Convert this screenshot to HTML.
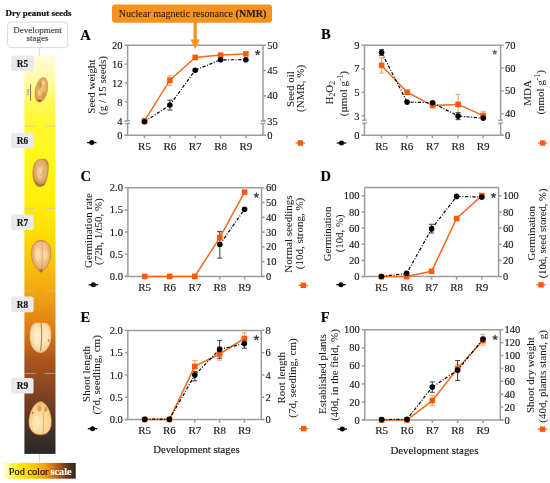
<!DOCTYPE html>
<html><head><meta charset="utf-8"><title>Peanut seed development</title>
<style>
html,body{margin:0;padding:0;background:#fff;}
body{width:550px;height:483px;overflow:hidden;font-family:"Liberation Serif",serif;}
svg{display:block;filter:blur(0.25px);}
text{font-family:"Liberation Serif",serif;stroke:#111;stroke-width:0.15px;}
.w{stroke:#fff;}
</style></head><body>
<svg width="550" height="483" viewBox="0 0 550 483" font-family="Liberation Serif, serif">
<rect width="550" height="483" fill="#fff"/>
<defs>
<linearGradient id="strip" x1="0" y1="0" x2="0" y2="1">
<stop offset="0.0000" stop-color="#fffcdc"/>
<stop offset="0.0613" stop-color="#fffba4"/>
<stop offset="0.1115" stop-color="#fff960"/>
<stop offset="0.1617" stop-color="#fff830"/>
<stop offset="0.2470" stop-color="#fff81a"/>
<stop offset="0.3525" stop-color="#fff00c"/>
<stop offset="0.4379" stop-color="#ffe000"/>
<stop offset="0.5006" stop-color="#fcca08"/>
<stop offset="0.5684" stop-color="#f5b010"/>
<stop offset="0.6136" stop-color="#ee9e14"/>
<stop offset="0.6889" stop-color="#dc7a14"/>
<stop offset="0.7642" stop-color="#ac5420"/>
<stop offset="0.8622" stop-color="#7a4020"/>
<stop offset="0.9149" stop-color="#5a3428"/>
<stop offset="0.9651" stop-color="#362d27"/>
<stop offset="1.0000" stop-color="#2c2826"/>
</linearGradient>
<linearGradient id="pod" x1="0" y1="0" x2="1" y2="0">
<stop offset="0" stop-color="#fffff4"/>
<stop offset="0.12" stop-color="#fffb60"/>
<stop offset="0.25" stop-color="#ffea00"/>
<stop offset="0.45" stop-color="#fbc400"/>
<stop offset="0.6" stop-color="#ee9a14"/>
<stop offset="0.75" stop-color="#b85e18"/>
<stop offset="0.88" stop-color="#6e3a1c"/>
<stop offset="1" stop-color="#2a2220"/>
</linearGradient>
<radialGradient id="s5" cx="0.5" cy="0.45" r="0.6"><stop offset="0" stop-color="#f0c880"/><stop offset="0.65" stop-color="#e0aa5c"/><stop offset="1" stop-color="#c4803a"/></radialGradient>
<radialGradient id="s6" cx="0.5" cy="0.42" r="0.6"><stop offset="0" stop-color="#f0cc8c"/><stop offset="0.65" stop-color="#dcaa66"/><stop offset="1" stop-color="#b47a3e"/></radialGradient>
<radialGradient id="s7" cx="0.5" cy="0.42" r="0.6"><stop offset="0" stop-color="#fadcae"/><stop offset="0.55" stop-color="#f0c088"/><stop offset="0.85" stop-color="#e0a068"/><stop offset="1" stop-color="#c87848"/></radialGradient>
<radialGradient id="s8" cx="0.5" cy="0.45" r="0.6"><stop offset="0" stop-color="#fcecc4"/><stop offset="0.7" stop-color="#f6dca6"/><stop offset="1" stop-color="#e4b472"/></radialGradient>
<radialGradient id="s9" cx="0.5" cy="0.6" r="0.62"><stop offset="0" stop-color="#fce6b0"/><stop offset="0.7" stop-color="#f7d48e"/><stop offset="1" stop-color="#e4a858"/></radialGradient>
<filter id="sb" x="-10%" y="-10%" width="120%" height="120%"><feGaussianBlur stdDeviation="0.35"/></filter>
</defs>
<text x="5.6" y="16" font-size="9" font-weight="bold" fill="#000">Dry peanut seeds</text>
<rect x="7.6" y="22" width="60" height="25.6" rx="3.5" fill="#fff" stroke="#d6d6d6" stroke-width="0.9"/>
<text x="37.5" y="32.7" font-size="9" fill="#444" style="stroke:#555;stroke-width:0.2px" text-anchor="middle">Development</text>
<text x="37.5" y="40.9" font-size="9" fill="#444" style="stroke:#555;stroke-width:0.2px" text-anchor="middle">stages</text>
<line x1="39.2" y1="47.6" x2="39.2" y2="56" stroke="#cfcfcf" stroke-width="0.9"/>
<rect x="24.4" y="55.6" width="31.1" height="398.3" fill="url(#strip)"/>
<line x1="24.4" y1="126.2" x2="35.6" y2="126.2" stroke="#c4c4c4" stroke-opacity="0.6" stroke-width="1"/><line x1="44.7" y1="126.2" x2="55.5" y2="126.2" stroke="#c4c4c4" stroke-opacity="0.6" stroke-width="1"/>
<line x1="24.4" y1="208.5" x2="35.6" y2="208.5" stroke="#c4c4c4" stroke-opacity="0.6" stroke-width="1"/><line x1="44.7" y1="208.5" x2="55.5" y2="208.5" stroke="#c4c4c4" stroke-opacity="0.6" stroke-width="1"/>
<line x1="24.4" y1="290.9" x2="35.6" y2="290.9" stroke="#c4c4c4" stroke-opacity="0.6" stroke-width="1"/><line x1="44.7" y1="290.9" x2="55.5" y2="290.9" stroke="#c4c4c4" stroke-opacity="0.6" stroke-width="1"/>
<line x1="24.4" y1="373.4" x2="35.6" y2="373.4" stroke="#c4c4c4" stroke-opacity="0.6" stroke-width="1"/><line x1="44.7" y1="373.4" x2="55.5" y2="373.4" stroke="#c4c4c4" stroke-opacity="0.6" stroke-width="1"/>
<rect x="11.2" y="55.6" width="22.4" height="15.6" rx="2.2" fill="#e9e9eb"/>
<text x="22.4" y="66.7" font-size="9.4" font-weight="bold" fill="#111" text-anchor="middle">R5</text>
<rect x="11.2" y="132.7" width="22.4" height="15.6" rx="2.2" fill="#e9e9eb"/>
<text x="22.4" y="143.79999999999998" font-size="9.4" font-weight="bold" fill="#111" text-anchor="middle">R6</text>
<rect x="11.2" y="214.4" width="22.4" height="15.6" rx="2.2" fill="#e9e9eb"/>
<text x="22.4" y="225.5" font-size="9.4" font-weight="bold" fill="#111" text-anchor="middle">R7</text>
<rect x="11.2" y="296.6" width="22.4" height="15.6" rx="2.2" fill="#e9e9eb"/>
<text x="22.4" y="307.70000000000005" font-size="9.4" font-weight="bold" fill="#111" text-anchor="middle">R8</text>
<rect x="11.2" y="378.0" width="22.4" height="15.6" rx="2.2" fill="#e9e9eb"/>
<text x="22.4" y="389.1" font-size="9.4" font-weight="bold" fill="#111" text-anchor="middle">R9</text>
<g filter="url(#sb)">
<ellipse cx="41.4" cy="89.8" rx="6.4" ry="12.8" transform="rotate(12 41.4 89.8)" fill="url(#s5)"/>
<ellipse cx="40.2" cy="85" rx="1.8" ry="3.6" transform="rotate(12 40.2 85)" fill="#c87430" opacity="0.55"/>
<ellipse cx="43.2" cy="95" rx="1.3" ry="3" transform="rotate(12 43.2 95)" fill="#c07030" opacity="0.45"/>
<ellipse cx="43.3" cy="83" rx="1.6" ry="2.6" fill="#f6dca8" opacity="0.75"/>
<ellipse cx="39.2" cy="93.5" rx="1.4" ry="2.4" fill="#f2d49a" opacity="0.7"/>
<ellipse cx="39.6" cy="100.6" rx="1.8" ry="1.1" fill="#7a3a18" opacity="0.7"/>
<path d="M44 159 C47 159 48.6 162 48.4 167 C48.2 174 47 181 44.5 184.5 C42.5 186.7 39.5 187.2 37.2 186 C34.2 184 32.6 178 32.8 172 C33 166 35 161.2 38 160 C40 159.3 42 159 44 159 Z" fill="url(#s6)" stroke="#9a5a28" stroke-opacity="0.45" stroke-width="0.8"/>
<ellipse cx="40" cy="173" rx="3" ry="6" fill="#f4d8a4" opacity="0.55"/>
<path d="M36 182 C38 185 42 186 44.5 184" stroke="#9a5a2a" stroke-width="1.2" fill="none" opacity="0.6"/>
<path d="M41 176 L44 170" stroke="#b07038" stroke-width="0.8" opacity="0.5"/>
<path d="M41 240.6 C47.5 240.6 51 245.5 50.9 253 C50.8 261 47 268.5 41.2 272.4 C35 268.5 31.3 261 31.4 253 C31.5 245.5 34.8 240.6 41 240.6 Z" fill="url(#s7)" stroke="#b0603a" stroke-opacity="0.5" stroke-width="0.8"/>
<path d="M41.6 243 C42.6 251 42.6 261 41.4 270" stroke="#d08858" stroke-width="1.1" fill="none" opacity="0.55"/>
<ellipse cx="37.5" cy="254" rx="2.6" ry="7" fill="#fbe2b8" opacity="0.6"/>
<ellipse cx="45.5" cy="255" rx="2.2" ry="6" fill="#fbe0b4" opacity="0.5"/>
<path d="M39.2 269.5 L41.2 272.4 L43.2 269.5 Z" fill="#a04828" opacity="0.7"/>
<path d="M36 241.8 C39 240.4 43 240.4 46 241.8" stroke="#c06a3a" stroke-width="1" fill="none" opacity="0.6"/>
<path d="M40.8 323.5 C43 321.8 48 322 50.2 327 C51.8 331 51.6 340 49.5 345 C47.5 350 44 352.8 40.5 352.8 C37 352.8 33 350 31.2 345 C29.3 340 29.4 331 31 327 C33 322 38 321.8 40.8 323.5 Z" fill="url(#s8)" stroke="#c89050" stroke-opacity="0.5" stroke-width="0.7"/>
<ellipse cx="36.5" cy="336" rx="3" ry="9" fill="#fff4d8" opacity="0.55"/>
<ellipse cx="46" cy="335" rx="2.4" ry="8" fill="#fff2d0" opacity="0.45"/>
<path d="M41.2 324 C42 332 41.8 342 40.6 351" stroke="#a8603a" stroke-width="1.1" fill="none" opacity="0.75"/>
<ellipse cx="48.5" cy="340.5" rx="0.8" ry="1.2" fill="#a05a30" opacity="0.7"/>
<path d="M40.5 401.3 C46.5 402 51.5 412 51.5 422 C51.5 431 46.5 434.9 40.5 434.9 C34.5 434.9 28.8 431 28.8 422 C28.8 412 34.5 402 40.5 401.3 Z" fill="url(#s9)" stroke="#c07838" stroke-opacity="0.45" stroke-width="0.7"/>
<ellipse cx="39.5" cy="408.5" rx="2.2" ry="3" fill="#d07a30" opacity="0.6"/>
<ellipse cx="45.5" cy="409.5" rx="1.5" ry="2.6" fill="#c06a28" opacity="0.6"/>
<path d="M43 412 C43.8 420 43.8 427 43 434" stroke="#d89040" stroke-width="1" fill="none" opacity="0.6"/>
<path d="M33 433 C37 435.5 44 435.5 48 433" stroke="#c05a28" stroke-width="1.1" fill="none" opacity="0.6"/>
<ellipse cx="32.6" cy="413" rx="0.9" ry="0.9" fill="#8a4a20" opacity="0.7"/>
<ellipse cx="36" cy="423" rx="3.5" ry="8" fill="#fff0cc" opacity="0.45"/>
</g>
<line x1="30.6" y1="84.3" x2="30.6" y2="100.7" stroke="#555" stroke-width="0.8"/>
<text transform="translate(28.6,92.5) rotate(-90)" font-size="3.2" fill="#555" style="stroke:none" text-anchor="middle">1 cm</text>
<line x1="39.4" y1="454" x2="39.4" y2="462.6" stroke="#cfcfcf" stroke-width="0.9"/>
<rect x="2.5" y="462.9" width="73.2" height="15.8" fill="url(#pod)"/>
<text x="8.8" y="474.8" font-size="10.3" fill="#111">Pod color</text>
<text x="50.6" y="474.8" font-size="10.2" font-weight="bold" fill="#fff" class="w">scale</text>
<g stroke="#9c9c9c" stroke-width="1.5" fill="none"><line x1="127.6" y1="45.2" x2="263" y2="45.2"/><line x1="124.6" y1="135.3" x2="266" y2="135.3"/><line x1="127.6" y1="45.2" x2="127.6" y2="120.6"/><line x1="127.6" y1="123.4" x2="127.6" y2="135.3"/><line x1="125.3" y1="121" x2="129.9" y2="120.4"/><line x1="125.3" y1="123.8" x2="129.9" y2="123.2"/><line x1="263" y1="45.2" x2="263" y2="120.6"/><line x1="263" y1="123.4" x2="263" y2="135.3"/><line x1="260.7" y1="121" x2="265.3" y2="120.4"/><line x1="260.7" y1="123.8" x2="265.3" y2="123.2"/><line x1="124.6" y1="45.2" x2="127.6" y2="45.2"/><line x1="124.6" y1="64.1" x2="127.6" y2="64.1"/><line x1="124.6" y1="83" x2="127.6" y2="83"/><line x1="124.6" y1="101.9" x2="127.6" y2="101.9"/><line x1="124.6" y1="120.9" x2="127.6" y2="120.9"/><line x1="124.6" y1="135.3" x2="127.6" y2="135.3"/><line x1="263" y1="45.2" x2="266" y2="45.2"/><line x1="263" y1="70.5" x2="266" y2="70.5"/><line x1="263" y1="95.8" x2="266" y2="95.8"/><line x1="263" y1="121" x2="266" y2="121"/><line x1="263" y1="135.3" x2="266" y2="135.3"/><line x1="144.5" y1="135.3" x2="144.5" y2="138.3"/><line x1="169.9" y1="135.3" x2="169.9" y2="138.3"/><line x1="195.2" y1="135.3" x2="195.2" y2="138.3"/><line x1="220.6" y1="135.3" x2="220.6" y2="138.3"/><line x1="245.9" y1="135.3" x2="245.9" y2="138.3"/></g>
<g font-size="10.5" fill="#1a1a1a"><text x="122.6" y="48.8" text-anchor="end">20</text><text x="122.6" y="67.7" text-anchor="end">16</text><text x="122.6" y="86.6" text-anchor="end">12</text><text x="122.6" y="105.5" text-anchor="end">8</text><text x="122.6" y="124.5" text-anchor="end">4</text><text x="122.6" y="138.9" text-anchor="end">0</text><text x="267.3" y="48.8">50</text><text x="267.3" y="74.1">45</text><text x="267.3" y="99.4">40</text><text x="267.3" y="124.6">35</text><text x="267.3" y="138.9">0</text></g>
<g font-size="11" fill="#1a1a1a"><text x="144.5" y="149.7" text-anchor="middle">R5</text><text x="169.9" y="149.7" text-anchor="middle">R6</text><text x="195.2" y="149.7" text-anchor="middle">R7</text><text x="220.6" y="149.7" text-anchor="middle">R8</text><text x="245.9" y="149.7" text-anchor="middle">R9</text></g>
<text x="80.2" y="39.6" font-size="14.5" font-weight="bold" fill="#000">A</text>
<text transform="translate(94.8,86.6) rotate(-90)" text-anchor="middle" font-size="11" fill="#1a1a1a" style="stroke-width:0.04px">Seed weight</text>
<text transform="translate(105.6,85.5) rotate(-90)" text-anchor="middle" font-size="11" fill="#1a1a1a" style="stroke-width:0.04px">(g / 15 seeds)</text>
<text transform="translate(294,89) rotate(-90)" text-anchor="middle" font-size="11" fill="#1a1a1a" style="stroke-width:0.04px">Seed oil</text>
<text transform="translate(304.3,88.4) rotate(-90)" text-anchor="middle" font-size="11" fill="#1a1a1a" style="stroke-width:0.04px">(NMR, %)</text>
<g stroke="#f3a66a" stroke-width="1.1"><line x1="144.5" y1="118.2" x2="144.5" y2="123.6"/><line x1="142" y1="118.2" x2="147" y2="118.2"/><line x1="142" y1="123.6" x2="147" y2="123.6"/><line x1="169.9" y1="75.7" x2="169.9" y2="85.3"/><line x1="167.4" y1="75.7" x2="172.4" y2="75.7"/><line x1="167.4" y1="85.3" x2="172.4" y2="85.3"/></g>
<g stroke="#4a4a4a" stroke-width="1.1"><line x1="169.9" y1="100.2" x2="169.9" y2="110.1"/><line x1="167.4" y1="100.2" x2="172.4" y2="100.2"/><line x1="167.4" y1="110.1" x2="172.4" y2="110.1"/></g>
<polyline points="144.5,120.9 169.9,80.2 195.2,57.5 220.6,55.1 245.9,53.9" fill="none" stroke="#f26a1c" stroke-width="1.5"/>
<g fill="#ff5a00"><rect x="141.7" y="118.1" width="5.6" height="5.6"/><rect x="167.1" y="77.4" width="5.6" height="5.6"/><rect x="192.4" y="54.7" width="5.6" height="5.6"/><rect x="217.8" y="52.3" width="5.6" height="5.6"/><rect x="243.1" y="51.1" width="5.6" height="5.6"/></g>
<polyline points="144.5,121.7 169.9,105 195.2,70.2 220.6,59.8 245.9,59.7" fill="none" stroke="#000" stroke-width="1.2" stroke-dasharray="3.2 1.6 1 1.6"/>
<g fill="#000"><circle cx="144.5" cy="121.7" r="2.8"/><circle cx="169.9" cy="105" r="2.8"/><circle cx="195.2" cy="70.2" r="2.8"/><circle cx="220.6" cy="59.8" r="2.8"/><circle cx="245.9" cy="59.7" r="2.8"/></g>
<path d="M257.6 52.7L257.6 50.5M257.6 52.7L259.69 52.02M257.6 52.7L258.89 54.48M257.6 52.7L256.31 54.48M257.6 52.7L255.51 52.02" stroke="#444" stroke-width="1.35" stroke-linecap="round" fill="none"/>
<line x1="87.1" y1="142.6" x2="96.5" y2="142.6" stroke="#000" stroke-width="1.3"/><circle cx="91.8" cy="142.6" r="2.5" fill="#000"/>
<line x1="295.5" y1="143" x2="305.1" y2="143" stroke="#f26a1c" stroke-width="1.2"/><rect x="297.6" y="140.3" width="5.4" height="5.4" fill="#ff5a00"/>
<g stroke="#9c9c9c" stroke-width="1.5" fill="none"><line x1="364.5" y1="45.2" x2="500.6" y2="45.2"/><line x1="361.5" y1="135.3" x2="503.6" y2="135.3"/><line x1="364.5" y1="45.2" x2="364.5" y2="120.2"/><line x1="364.5" y1="123" x2="364.5" y2="135.3"/><line x1="362.2" y1="120.6" x2="366.8" y2="120"/><line x1="362.2" y1="123.4" x2="366.8" y2="122.8"/><line x1="500.6" y1="45.2" x2="500.6" y2="120.2"/><line x1="500.6" y1="123" x2="500.6" y2="135.3"/><line x1="498.3" y1="120.6" x2="502.9" y2="120"/><line x1="498.3" y1="123.4" x2="502.9" y2="122.8"/><line x1="361.5" y1="45.2" x2="364.5" y2="45.2"/><line x1="361.5" y1="68.77" x2="364.5" y2="68.77"/><line x1="361.5" y1="92.33" x2="364.5" y2="92.33"/><line x1="361.5" y1="115.9" x2="364.5" y2="115.9"/><line x1="361.5" y1="135.3" x2="364.5" y2="135.3"/><line x1="500.6" y1="45.2" x2="503.6" y2="45.2"/><line x1="500.6" y1="68.03" x2="503.6" y2="68.03"/><line x1="500.6" y1="90.87" x2="503.6" y2="90.87"/><line x1="500.6" y1="113.7" x2="503.6" y2="113.7"/><line x1="500.6" y1="135.3" x2="503.6" y2="135.3"/><line x1="381.6" y1="135.3" x2="381.6" y2="138.3"/><line x1="406.9" y1="135.3" x2="406.9" y2="138.3"/><line x1="432.5" y1="135.3" x2="432.5" y2="138.3"/><line x1="458" y1="135.3" x2="458" y2="138.3"/><line x1="483.2" y1="135.3" x2="483.2" y2="138.3"/></g>
<g font-size="10.5" fill="#1a1a1a"><text x="359.5" y="48.8" text-anchor="end">9</text><text x="359.5" y="72.37" text-anchor="end">7</text><text x="359.5" y="95.93" text-anchor="end">5</text><text x="359.5" y="119.5" text-anchor="end">3</text><text x="359.5" y="138.9" text-anchor="end">0</text><text x="504.9" y="48.8">70</text><text x="504.9" y="71.63">60</text><text x="504.9" y="94.47">50</text><text x="504.9" y="117.3">40</text><text x="504.9" y="138.9">0</text></g>
<g font-size="11" fill="#1a1a1a"><text x="381.6" y="149.7" text-anchor="middle">R5</text><text x="406.9" y="149.7" text-anchor="middle">R6</text><text x="432.5" y="149.7" text-anchor="middle">R7</text><text x="458" y="149.7" text-anchor="middle">R8</text><text x="483.2" y="149.7" text-anchor="middle">R9</text></g>
<text x="321" y="38.8" font-size="14.5" font-weight="bold" fill="#000">B</text>
<text transform="translate(333,92.8) rotate(-90)" text-anchor="middle" font-size="11" fill="#1a1a1a" style="stroke-width:0.04px">H<tspan font-size="7.5" dy="2">2</tspan><tspan dy="-2">O</tspan><tspan font-size="7.5" dy="2">2</tspan></text>
<text transform="translate(346.8,93.6) rotate(-90)" text-anchor="middle" font-size="11" fill="#1a1a1a" style="stroke-width:0.04px">(µmol g<tspan font-size="7.5" dy="-4">-1</tspan><tspan dy="4">)</tspan></text>
<text transform="translate(531,93) rotate(-90)" text-anchor="middle" font-size="11" fill="#1a1a1a" style="stroke-width:0.04px">MDA</text>
<text transform="translate(544.3,92.4) rotate(-90)" text-anchor="middle" font-size="11" fill="#1a1a1a" style="stroke-width:0.04px">(nmol g<tspan font-size="7.5" dy="-4">-1</tspan><tspan dy="4">)</tspan></text>
<g stroke="#f3a66a" stroke-width="1.1"><line x1="381.6" y1="57.9" x2="381.6" y2="73.1"/><line x1="379.1" y1="57.9" x2="384.1" y2="57.9"/><line x1="379.1" y1="73.1" x2="384.1" y2="73.1"/><line x1="458.1" y1="94.3" x2="458.1" y2="114.2"/><line x1="455.6" y1="94.3" x2="460.6" y2="94.3"/><line x1="455.6" y1="114.2" x2="460.6" y2="114.2"/><line x1="483.2" y1="111.7" x2="483.2" y2="119"/><line x1="480.7" y1="111.7" x2="485.7" y2="111.7"/><line x1="480.7" y1="119" x2="485.7" y2="119"/></g>
<g stroke="#4a4a4a" stroke-width="1.1"><line x1="381.6" y1="49.6" x2="381.6" y2="55.5"/><line x1="379.1" y1="49.6" x2="384.1" y2="49.6"/><line x1="379.1" y1="55.5" x2="384.1" y2="55.5"/><line x1="458.1" y1="112.7" x2="458.1" y2="119.6"/><line x1="455.6" y1="112.7" x2="460.6" y2="112.7"/><line x1="455.6" y1="119.6" x2="460.6" y2="119.6"/></g>
<polyline points="381.6,65.4 407.1,92.2 432.6,105.6 458.1,104.4 483.2,115.6" fill="none" stroke="#f26a1c" stroke-width="1.5"/>
<g fill="#ff5a00"><rect x="378.8" y="62.6" width="5.6" height="5.6"/><rect x="404.3" y="89.4" width="5.6" height="5.6"/><rect x="429.8" y="102.8" width="5.6" height="5.6"/><rect x="455.3" y="101.6" width="5.6" height="5.6"/><rect x="480.4" y="112.8" width="5.6" height="5.6"/></g>
<polyline points="381.6,52.5 407.1,102.1 432.6,102.7 458.1,116.1 483.2,118.1" fill="none" stroke="#000" stroke-width="1.2" stroke-dasharray="3.2 1.6 1 1.6"/>
<g fill="#000"><circle cx="381.6" cy="52.5" r="2.8"/><circle cx="407.1" cy="102.1" r="2.8"/><circle cx="432.6" cy="102.7" r="2.8"/><circle cx="458.1" cy="116.1" r="2.8"/><circle cx="483.2" cy="118.1" r="2.8"/></g>
<path d="M494.8 52.2L494.8 50.3M494.8 52.2L496.61 51.61M494.8 52.2L495.92 53.74M494.8 52.2L493.68 53.74M494.8 52.2L492.99 51.61" stroke="#666" stroke-width="1.35" stroke-linecap="round" fill="none"/>
<line x1="336.8" y1="143" x2="346.2" y2="143" stroke="#000" stroke-width="1.3"/><circle cx="341.5" cy="143" r="2.5" fill="#000"/>
<line x1="537.8" y1="143" x2="547.4" y2="143" stroke="#f26a1c" stroke-width="1.2"/><rect x="539.9" y="140.3" width="5.4" height="5.4" fill="#ff5a00"/>
<g stroke="#9c9c9c" stroke-width="1.5" fill="none"><line x1="127.9" y1="187.7" x2="261.6" y2="187.7"/><line x1="124.9" y1="276.4" x2="264.6" y2="276.4"/><line x1="127.9" y1="187.7" x2="127.9" y2="276.4"/><line x1="261.6" y1="187.7" x2="261.6" y2="276.4"/><line x1="124.9" y1="187.7" x2="127.9" y2="187.7"/><line x1="124.9" y1="209.88" x2="127.9" y2="209.88"/><line x1="124.9" y1="232.05" x2="127.9" y2="232.05"/><line x1="124.9" y1="254.22" x2="127.9" y2="254.22"/><line x1="124.9" y1="276.4" x2="127.9" y2="276.4"/><line x1="261.6" y1="187.7" x2="264.6" y2="187.7"/><line x1="261.6" y1="202.48" x2="264.6" y2="202.48"/><line x1="261.6" y1="217.27" x2="264.6" y2="217.27"/><line x1="261.6" y1="232.05" x2="264.6" y2="232.05"/><line x1="261.6" y1="246.83" x2="264.6" y2="246.83"/><line x1="261.6" y1="261.62" x2="264.6" y2="261.62"/><line x1="261.6" y1="276.4" x2="264.6" y2="276.4"/><line x1="144.7" y1="276.4" x2="144.7" y2="279.4"/><line x1="169.7" y1="276.4" x2="169.7" y2="279.4"/><line x1="194.8" y1="276.4" x2="194.8" y2="279.4"/><line x1="219.8" y1="276.4" x2="219.8" y2="279.4"/><line x1="244.6" y1="276.4" x2="244.6" y2="279.4"/></g>
<g font-size="10.5" fill="#1a1a1a"><text x="122.9" y="191.3" text-anchor="end">2.0</text><text x="122.9" y="213.47" text-anchor="end">1.5</text><text x="122.9" y="235.65" text-anchor="end">1.0</text><text x="122.9" y="257.82" text-anchor="end">0.5</text><text x="122.9" y="280" text-anchor="end">0.0</text><text x="265.9" y="191.3">60</text><text x="265.9" y="206.08">50</text><text x="265.9" y="220.87">40</text><text x="265.9" y="235.65">30</text><text x="265.9" y="250.43">20</text><text x="265.9" y="265.22">10</text><text x="265.9" y="280">0</text></g>
<g font-size="11" fill="#1a1a1a"><text x="144.7" y="290.8" text-anchor="middle">R5</text><text x="169.7" y="290.8" text-anchor="middle">R6</text><text x="194.8" y="290.8" text-anchor="middle">R7</text><text x="219.8" y="290.8" text-anchor="middle">R8</text><text x="244.6" y="290.8" text-anchor="middle">R9</text></g>
<text x="80.4" y="180.8" font-size="14.5" font-weight="bold" fill="#000">C</text>
<text transform="translate(92,230.5) rotate(-90)" text-anchor="middle" font-size="11" fill="#1a1a1a" style="stroke-width:0.04px">Germination rate</text>
<text transform="translate(102.4,231.6) rotate(-90)" text-anchor="middle" font-size="11" fill="#1a1a1a" style="stroke-width:0.04px">(72h, 1/t50, %)</text>
<text transform="translate(291.6,234) rotate(-90)" text-anchor="middle" font-size="11" fill="#1a1a1a" style="stroke-width:0.04px">Normal seedlings</text>
<text transform="translate(302.8,233.5) rotate(-90)" text-anchor="middle" font-size="11" fill="#1a1a1a" style="stroke-width:0.04px">(10d, strong, %)</text>
<g stroke="#f3a66a" stroke-width="1.1"><line x1="219.8" y1="232" x2="219.8" y2="243"/><line x1="217.3" y1="232" x2="222.3" y2="232"/><line x1="217.3" y1="243" x2="222.3" y2="243"/></g>
<g stroke="#4a4a4a" stroke-width="1.1"><line x1="219.8" y1="231.5" x2="219.8" y2="258.1"/><line x1="217.3" y1="231.5" x2="222.3" y2="231.5"/><line x1="217.3" y1="258.1" x2="222.3" y2="258.1"/></g>
<polyline points="144.7,276.4 169.7,276.4 194.8,276.4 219.8,237.6 244.6,192.1" fill="none" stroke="#f26a1c" stroke-width="1.5"/>
<g fill="#ff5a00"><rect x="141.9" y="273.6" width="5.6" height="5.6"/><rect x="166.9" y="273.6" width="5.6" height="5.6"/><rect x="192" y="273.6" width="5.6" height="5.6"/><rect x="217" y="234.8" width="5.6" height="5.6"/><rect x="241.8" y="189.3" width="5.6" height="5.6"/></g>
<polyline points="219.8,244.5 244.6,209.2" fill="none" stroke="#000" stroke-width="1.2" stroke-dasharray="3.2 1.6 1 1.6"/>
<g fill="#000"><circle cx="219.8" cy="244.5" r="2.8"/><circle cx="244.6" cy="209.2" r="2.8"/></g>
<path d="M256.4 195.3L256.4 193.1M256.4 195.3L258.49 194.62M256.4 195.3L257.69 197.08M256.4 195.3L255.11 197.08M256.4 195.3L254.31 194.62" stroke="#444" stroke-width="1.35" stroke-linecap="round" fill="none"/>
<line x1="88.7" y1="284.8" x2="98.1" y2="284.8" stroke="#000" stroke-width="1.3"/><circle cx="93.4" cy="284.8" r="2.5" fill="#000"/>
<line x1="298.5" y1="285.3" x2="308.1" y2="285.3" stroke="#f26a1c" stroke-width="1.2"/><rect x="300.6" y="282.6" width="5.4" height="5.4" fill="#ff5a00"/>
<g stroke="#9c9c9c" stroke-width="1.5" fill="none"><line x1="364.6" y1="187.5" x2="498.6" y2="187.5"/><line x1="361.6" y1="276.6" x2="501.6" y2="276.6"/><line x1="364.6" y1="187.5" x2="364.6" y2="276.6"/><line x1="498.6" y1="187.5" x2="498.6" y2="276.6"/><line x1="361.6" y1="195.8" x2="364.6" y2="195.8"/><line x1="361.6" y1="211.96" x2="364.6" y2="211.96"/><line x1="361.6" y1="228.12" x2="364.6" y2="228.12"/><line x1="361.6" y1="244.28" x2="364.6" y2="244.28"/><line x1="361.6" y1="260.44" x2="364.6" y2="260.44"/><line x1="361.6" y1="276.6" x2="364.6" y2="276.6"/><line x1="498.6" y1="195.8" x2="501.6" y2="195.8"/><line x1="498.6" y1="211.96" x2="501.6" y2="211.96"/><line x1="498.6" y1="228.12" x2="501.6" y2="228.12"/><line x1="498.6" y1="244.28" x2="501.6" y2="244.28"/><line x1="498.6" y1="260.44" x2="501.6" y2="260.44"/><line x1="498.6" y1="276.6" x2="501.6" y2="276.6"/><line x1="381.4" y1="276.6" x2="381.4" y2="279.6"/><line x1="406.6" y1="276.6" x2="406.6" y2="279.6"/><line x1="431.6" y1="276.6" x2="431.6" y2="279.6"/><line x1="456.6" y1="276.6" x2="456.6" y2="279.6"/><line x1="481.8" y1="276.6" x2="481.8" y2="279.6"/></g>
<g font-size="10.5" fill="#1a1a1a"><text x="359.6" y="199.4" text-anchor="end">100</text><text x="359.6" y="215.56" text-anchor="end">80</text><text x="359.6" y="231.72" text-anchor="end">60</text><text x="359.6" y="247.88" text-anchor="end">40</text><text x="359.6" y="264.04" text-anchor="end">20</text><text x="359.6" y="280.2" text-anchor="end">0</text><text x="502.9" y="199.4">100</text><text x="502.9" y="215.56">80</text><text x="502.9" y="231.72">60</text><text x="502.9" y="247.88">40</text><text x="502.9" y="264.04">20</text><text x="502.9" y="280.2">0</text></g>
<g font-size="11" fill="#1a1a1a"><text x="381.4" y="291" text-anchor="middle">R5</text><text x="406.6" y="291" text-anchor="middle">R6</text><text x="431.6" y="291" text-anchor="middle">R7</text><text x="456.6" y="291" text-anchor="middle">R8</text><text x="481.8" y="291" text-anchor="middle">R9</text></g>
<text x="320.6" y="180.5" font-size="14.5" font-weight="bold" fill="#000">D</text>
<text transform="translate(331.4,234) rotate(-90)" text-anchor="middle" font-size="10.8" fill="#1a1a1a" style="stroke-width:0.04px">Germination</text>
<text transform="translate(343,233.4) rotate(-90)" text-anchor="middle" font-size="10.8" fill="#1a1a1a" style="stroke-width:0.04px">(10d, %)</text>
<text transform="translate(535.4,233.3) rotate(-90)" text-anchor="middle" font-size="10.8" fill="#1a1a1a" style="stroke-width:0.04px">Germination</text>
<text transform="translate(545.6,233.4) rotate(-90)" text-anchor="middle" font-size="10.6" fill="#1a1a1a" style="stroke-width:0.04px">(10d, seed stored, %)</text>
<g stroke="#f3a66a" stroke-width="1.1"></g>
<g stroke="#4a4a4a" stroke-width="1.1"><line x1="431.6" y1="224.3" x2="431.6" y2="233"/><line x1="429.1" y1="224.3" x2="434.1" y2="224.3"/><line x1="429.1" y1="233" x2="434.1" y2="233"/></g>
<polyline points="381.4,276.6 406.6,276.6 431.6,271.3 456.6,218.5 481.8,195.6" fill="none" stroke="#f26a1c" stroke-width="1.5"/>
<g fill="#ff5a00"><rect x="378.6" y="273.8" width="5.6" height="5.6"/><rect x="403.8" y="273.8" width="5.6" height="5.6"/><rect x="428.8" y="268.5" width="5.6" height="5.6"/><rect x="453.8" y="215.7" width="5.6" height="5.6"/><rect x="479" y="192.8" width="5.6" height="5.6"/></g>
<polyline points="381.4,276.5 406.6,273.4 431.6,228.9 456.6,196.4 481.8,197.1" fill="none" stroke="#000" stroke-width="1.2" stroke-dasharray="3.2 1.6 1 1.6"/>
<g fill="#000"><circle cx="381.4" cy="276.5" r="2.8"/><circle cx="406.6" cy="273.4" r="2.8"/><circle cx="431.6" cy="228.9" r="2.8"/><circle cx="456.6" cy="196.4" r="2.8"/><circle cx="481.8" cy="197.1" r="2.8"/></g>
<path d="M493.5 195.5L493.5 193.3M493.5 195.5L495.59 194.82M493.5 195.5L494.79 197.28M493.5 195.5L492.21 197.28M493.5 195.5L491.41 194.82" stroke="#444" stroke-width="1.35" stroke-linecap="round" fill="none"/>
<line x1="336.3" y1="284.7" x2="345.7" y2="284.7" stroke="#000" stroke-width="1.3"/><circle cx="341" cy="284.7" r="2.5" fill="#000"/>
<line x1="536.2" y1="284.8" x2="545.8" y2="284.8" stroke="#f26a1c" stroke-width="1.2"/><rect x="538.3" y="282.1" width="5.4" height="5.4" fill="#ff5a00"/>
<g stroke="#9c9c9c" stroke-width="1.5" fill="none"><line x1="127.8" y1="330.4" x2="261.3" y2="330.4"/><line x1="124.8" y1="419.5" x2="264.3" y2="419.5"/><line x1="127.8" y1="330.4" x2="127.8" y2="419.5"/><line x1="261.3" y1="330.4" x2="261.3" y2="419.5"/><line x1="124.8" y1="330.4" x2="127.8" y2="330.4"/><line x1="124.8" y1="352.67" x2="127.8" y2="352.67"/><line x1="124.8" y1="374.95" x2="127.8" y2="374.95"/><line x1="124.8" y1="397.23" x2="127.8" y2="397.23"/><line x1="124.8" y1="419.5" x2="127.8" y2="419.5"/><line x1="261.3" y1="330.4" x2="264.3" y2="330.4"/><line x1="261.3" y1="352.67" x2="264.3" y2="352.67"/><line x1="261.3" y1="374.95" x2="264.3" y2="374.95"/><line x1="261.3" y1="397.23" x2="264.3" y2="397.23"/><line x1="261.3" y1="419.5" x2="264.3" y2="419.5"/><line x1="144.7" y1="419.5" x2="144.7" y2="422.5"/><line x1="169.4" y1="419.5" x2="169.4" y2="422.5"/><line x1="194.8" y1="419.5" x2="194.8" y2="422.5"/><line x1="219.6" y1="419.5" x2="219.6" y2="422.5"/><line x1="244.4" y1="419.5" x2="244.4" y2="422.5"/></g>
<g font-size="10.5" fill="#1a1a1a"><text x="122.8" y="334" text-anchor="end">2.0</text><text x="122.8" y="356.27" text-anchor="end">1.5</text><text x="122.8" y="378.55" text-anchor="end">1.0</text><text x="122.8" y="400.83" text-anchor="end">0.5</text><text x="122.8" y="423.1" text-anchor="end">0.0</text><text x="265.6" y="334">8</text><text x="265.6" y="356.27">6</text><text x="265.6" y="378.55">4</text><text x="265.6" y="400.83">2</text><text x="265.6" y="423.1">0</text></g>
<g font-size="11" fill="#1a1a1a"><text x="144.7" y="433.9" text-anchor="middle">R5</text><text x="169.4" y="433.9" text-anchor="middle">R6</text><text x="194.8" y="433.9" text-anchor="middle">R7</text><text x="219.6" y="433.9" text-anchor="middle">R8</text><text x="244.4" y="433.9" text-anchor="middle">R9</text></g>
<text x="80.4" y="321.5" font-size="14.5" font-weight="bold" fill="#000">E</text>
<text transform="translate(89.6,374) rotate(-90)" text-anchor="middle" font-size="11" fill="#1a1a1a" style="stroke-width:0.04px">Shoot length</text>
<text transform="translate(100.3,374.9) rotate(-90)" text-anchor="middle" font-size="11" fill="#1a1a1a" style="stroke-width:0.04px">(7d, seedling, cm)</text>
<text transform="translate(284.9,377.8) rotate(-90)" text-anchor="middle" font-size="11" fill="#1a1a1a" style="stroke-width:0.04px">Root length</text>
<text transform="translate(296.3,378) rotate(-90)" text-anchor="middle" font-size="11" fill="#1a1a1a" style="stroke-width:0.04px">(7d, seedling, cm)</text>
<g stroke="#f3a66a" stroke-width="1.1"><line x1="194.8" y1="360.6" x2="194.8" y2="372.2"/><line x1="192.3" y1="360.6" x2="197.3" y2="360.6"/><line x1="192.3" y1="372.2" x2="197.3" y2="372.2"/><line x1="219.6" y1="346.7" x2="219.6" y2="360.2"/><line x1="217.1" y1="346.7" x2="222.1" y2="346.7"/><line x1="217.1" y1="360.2" x2="222.1" y2="360.2"/><line x1="244.4" y1="332.9" x2="244.4" y2="344.1"/><line x1="241.9" y1="332.9" x2="246.9" y2="332.9"/><line x1="241.9" y1="344.1" x2="246.9" y2="344.1"/></g>
<g stroke="#4a4a4a" stroke-width="1.1"><line x1="194.8" y1="371.6" x2="194.8" y2="380.9"/><line x1="192.3" y1="371.6" x2="197.3" y2="371.6"/><line x1="192.3" y1="380.9" x2="197.3" y2="380.9"/><line x1="219.6" y1="340.5" x2="219.6" y2="358.3"/><line x1="217.1" y1="340.5" x2="222.1" y2="340.5"/><line x1="217.1" y1="358.3" x2="222.1" y2="358.3"/><line x1="244.4" y1="339" x2="244.4" y2="348.2"/><line x1="241.9" y1="339" x2="246.9" y2="339"/><line x1="241.9" y1="348.2" x2="246.9" y2="348.2"/></g>
<polyline points="144.7,419.5 169.4,419.5 194.8,366.4 219.6,354 244.4,338.5" fill="none" stroke="#f26a1c" stroke-width="1.5"/>
<g fill="#ff5a00"><rect x="141.9" y="416.7" width="5.6" height="5.6"/><rect x="166.6" y="416.7" width="5.6" height="5.6"/><rect x="192" y="363.6" width="5.6" height="5.6"/><rect x="216.8" y="351.2" width="5.6" height="5.6"/><rect x="241.6" y="335.7" width="5.6" height="5.6"/></g>
<polyline points="144.7,419.2 169.4,419.2 194.8,375.1 219.6,349.4 244.4,343.6" fill="none" stroke="#000" stroke-width="1.2" stroke-dasharray="3.2 1.6 1 1.6"/>
<g fill="#000"><circle cx="144.7" cy="419.2" r="2.8"/><circle cx="169.4" cy="419.2" r="2.8"/><circle cx="194.8" cy="375.1" r="2.8"/><circle cx="219.6" cy="349.4" r="2.8"/><circle cx="244.4" cy="343.6" r="2.8"/></g>
<path d="M256.4 337.8L256.4 335.6M256.4 337.8L258.49 337.12M256.4 337.8L257.69 339.58M256.4 337.8L255.11 339.58M256.4 337.8L254.31 337.12" stroke="#444" stroke-width="1.35" stroke-linecap="round" fill="none"/>
<line x1="87.8" y1="428.7" x2="97.2" y2="428.7" stroke="#000" stroke-width="1.3"/><circle cx="92.5" cy="428.7" r="2.5" fill="#000"/>
<line x1="298.9" y1="428.6" x2="308.5" y2="428.6" stroke="#f26a1c" stroke-width="1.2"/><rect x="301" y="425.9" width="5.4" height="5.4" fill="#ff5a00"/>
<g stroke="#9c9c9c" stroke-width="1.5" fill="none"><line x1="364.8" y1="329.8" x2="500.3" y2="329.8"/><line x1="361.8" y1="420" x2="503.3" y2="420"/><line x1="364.8" y1="329.8" x2="364.8" y2="420"/><line x1="500.3" y1="329.8" x2="500.3" y2="420"/><line x1="361.8" y1="329.8" x2="364.8" y2="329.8"/><line x1="361.8" y1="347.84" x2="364.8" y2="347.84"/><line x1="361.8" y1="365.88" x2="364.8" y2="365.88"/><line x1="361.8" y1="383.92" x2="364.8" y2="383.92"/><line x1="361.8" y1="401.96" x2="364.8" y2="401.96"/><line x1="361.8" y1="420" x2="364.8" y2="420"/><line x1="500.3" y1="329.8" x2="503.3" y2="329.8"/><line x1="500.3" y1="342.69" x2="503.3" y2="342.69"/><line x1="500.3" y1="355.57" x2="503.3" y2="355.57"/><line x1="500.3" y1="368.46" x2="503.3" y2="368.46"/><line x1="500.3" y1="381.34" x2="503.3" y2="381.34"/><line x1="500.3" y1="394.23" x2="503.3" y2="394.23"/><line x1="500.3" y1="407.11" x2="503.3" y2="407.11"/><line x1="500.3" y1="420" x2="503.3" y2="420"/><line x1="381.6" y1="420" x2="381.6" y2="423"/><line x1="407" y1="420" x2="407" y2="423"/><line x1="432.3" y1="420" x2="432.3" y2="423"/><line x1="457.6" y1="420" x2="457.6" y2="423"/><line x1="483" y1="420" x2="483" y2="423"/></g>
<g font-size="10.5" fill="#1a1a1a"><text x="359.8" y="333.4" text-anchor="end">100</text><text x="359.8" y="351.44" text-anchor="end">80</text><text x="359.8" y="369.48" text-anchor="end">60</text><text x="359.8" y="387.52" text-anchor="end">40</text><text x="359.8" y="405.56" text-anchor="end">20</text><text x="359.8" y="423.6" text-anchor="end">0</text><text x="504.6" y="333.4">140</text><text x="504.6" y="346.29">120</text><text x="504.6" y="359.17">100</text><text x="504.6" y="372.06">80</text><text x="504.6" y="384.94">60</text><text x="504.6" y="397.83">40</text><text x="504.6" y="410.71">20</text><text x="504.6" y="423.6">0</text></g>
<g font-size="11" fill="#1a1a1a"><text x="381.6" y="434.4" text-anchor="middle">R5</text><text x="407" y="434.4" text-anchor="middle">R6</text><text x="432.3" y="434.4" text-anchor="middle">R7</text><text x="457.6" y="434.4" text-anchor="middle">R8</text><text x="483" y="434.4" text-anchor="middle">R9</text></g>
<text x="320.8" y="321.9" font-size="14.5" font-weight="bold" fill="#000">F</text>
<text transform="translate(326,374) rotate(-90)" text-anchor="middle" font-size="11" fill="#1a1a1a" style="stroke-width:0.04px">Established plants</text>
<text transform="translate(338.3,375) rotate(-90)" text-anchor="middle" font-size="11" fill="#1a1a1a" style="stroke-width:0.04px">(40d, in the field, %)</text>
<text transform="translate(534.3,375.2) rotate(-90)" text-anchor="middle" font-size="11" fill="#1a1a1a" style="stroke-width:0.04px">Shoot dry weight</text>
<text transform="translate(546.3,376.5) rotate(-90)" text-anchor="middle" font-size="11" fill="#1a1a1a" style="stroke-width:0.04px">(40d, plants stand, g)</text>
<g stroke="#f3a66a" stroke-width="1.1"><line x1="432.3" y1="395.4" x2="432.3" y2="405.7"/><line x1="429.8" y1="395.4" x2="434.8" y2="395.4"/><line x1="429.8" y1="405.7" x2="434.8" y2="405.7"/><line x1="457.6" y1="364.3" x2="457.6" y2="372.7"/><line x1="455.1" y1="364.3" x2="460.1" y2="364.3"/><line x1="455.1" y1="372.7" x2="460.1" y2="372.7"/><line x1="483" y1="334.3" x2="483" y2="345.1"/><line x1="480.5" y1="334.3" x2="485.5" y2="334.3"/><line x1="480.5" y1="345.1" x2="485.5" y2="345.1"/></g>
<g stroke="#4a4a4a" stroke-width="1.1"><line x1="432.3" y1="381.9" x2="432.3" y2="392.3"/><line x1="429.8" y1="381.9" x2="434.8" y2="381.9"/><line x1="429.8" y1="392.3" x2="434.8" y2="392.3"/><line x1="457.6" y1="360.6" x2="457.6" y2="380.5"/><line x1="455.1" y1="360.6" x2="460.1" y2="360.6"/><line x1="455.1" y1="380.5" x2="460.1" y2="380.5"/></g>
<polyline points="381.6,420 407,420 432.3,400.6 457.6,368.5 483,340.6" fill="none" stroke="#f26a1c" stroke-width="1.5"/>
<g fill="#ff5a00"><rect x="378.8" y="417.2" width="5.6" height="5.6"/><rect x="404.2" y="417.2" width="5.6" height="5.6"/><rect x="429.5" y="397.8" width="5.6" height="5.6"/><rect x="454.8" y="365.7" width="5.6" height="5.6"/><rect x="480.2" y="337.8" width="5.6" height="5.6"/></g>
<polyline points="381.6,419.6 407,419.2 432.3,387.1 457.6,370.1 483,339.1" fill="none" stroke="#000" stroke-width="1.2" stroke-dasharray="3.2 1.6 1 1.6"/>
<g fill="#000"><circle cx="381.6" cy="419.6" r="2.8"/><circle cx="407" cy="419.2" r="2.8"/><circle cx="432.3" cy="387.1" r="2.8"/><circle cx="457.6" cy="370.1" r="2.8"/><circle cx="483" cy="339.1" r="2.8"/></g>
<path d="M495.1 337.6L495.1 335.4M495.1 337.6L497.19 336.92M495.1 337.6L496.39 339.38M495.1 337.6L493.81 339.38M495.1 337.6L493.01 336.92" stroke="#444" stroke-width="1.35" stroke-linecap="round" fill="none"/>
<line x1="337.6" y1="429.1" x2="347" y2="429.1" stroke="#000" stroke-width="1.3"/><circle cx="342.3" cy="429.1" r="2.5" fill="#000"/>
<line x1="537.7" y1="429.2" x2="547.3" y2="429.2" stroke="#f26a1c" stroke-width="1.2"/><rect x="539.8" y="426.5" width="5.4" height="5.4" fill="#ff5a00"/>
<rect x="112" y="4.5" width="160" height="18.2" rx="3" fill="#f7921f"/>
<text x="118.7" y="16.9" font-size="10.1" fill="#1a1a1a" style="stroke-width:0.05px">Nuclear magnetic resonance <tspan font-weight="bold">(NMR)</tspan></text>
<line x1="195.15" y1="22" x2="195.15" y2="41" stroke="#f7921f" stroke-width="3.3"/>
<path d="M190.5 39.4 L199.8 39.4 L195.15 49.2 Z" fill="#f7921f"/>
<text x="196.4" y="453.1" font-size="10.7" fill="#1a1a1a" text-anchor="middle">Development stages</text>
<text x="434.4" y="454.3" font-size="10.9" fill="#1a1a1a" text-anchor="middle">Development stages</text>
</svg>
</body></html>
